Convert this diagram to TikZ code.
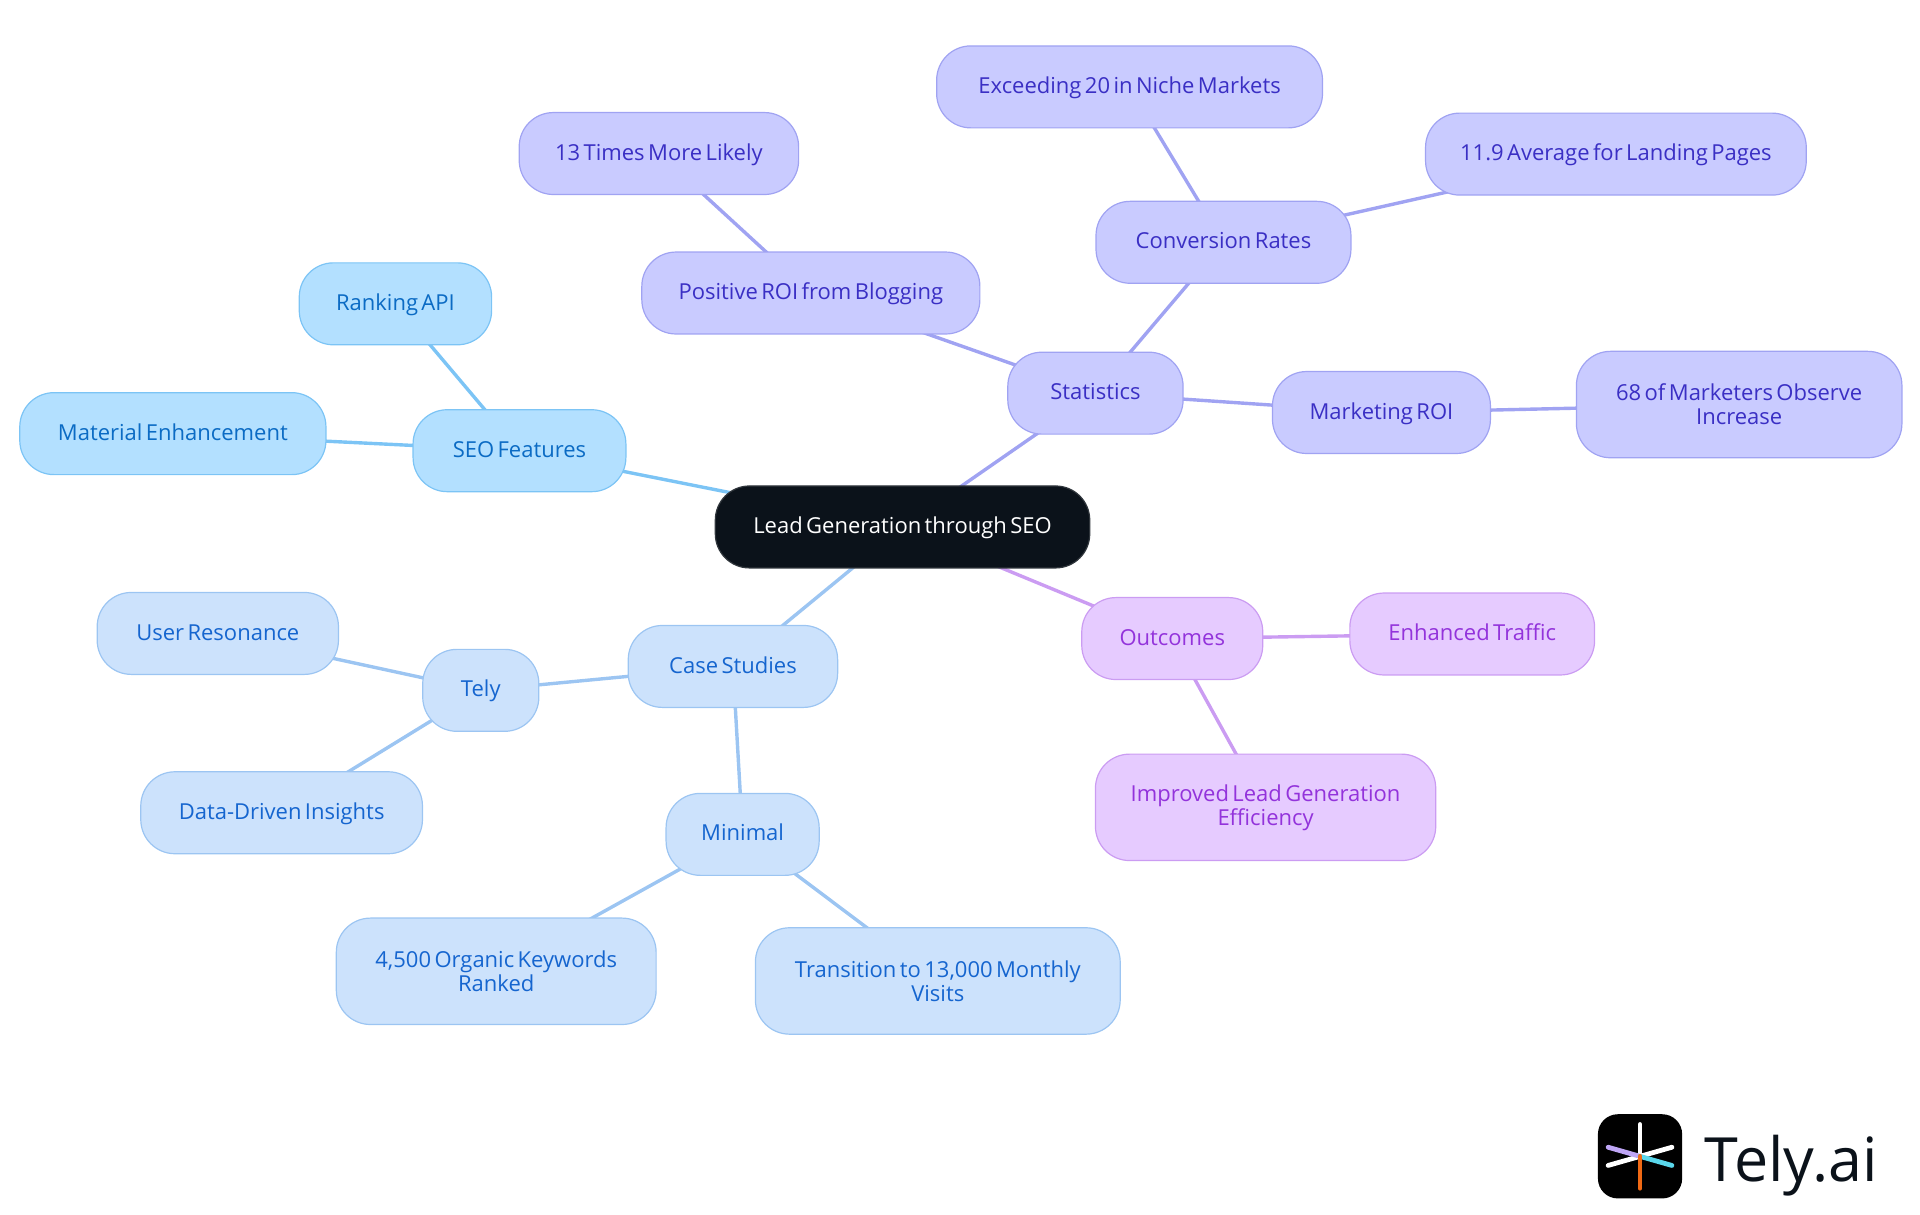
\documentclass[tikz,border=0pt]{standalone}
\usepackage{fontspec}
\setmainfont[WordSpace=0.6]{Open Sans}
\usetikzlibrary{positioning, backgrounds}
\definecolor{rootfill}{HTML}{0B121A}
\definecolor{seofill}{HTML}{B3E0FF}
\definecolor{seoedge}{HTML}{7CC4F5}
\definecolor{seotext}{HTML}{0B6BC4}
\definecolor{casefill}{HTML}{CCE2FC}
\definecolor{caseedge}{HTML}{9CC5F2}
\definecolor{casetext}{HTML}{1565CF}
\definecolor{statfill}{HTML}{C9CBFF}
\definecolor{statedge}{HTML}{A0A3F2}
\definecolor{stattext}{HTML}{3A2FC4}
\definecolor{outfill}{HTML}{E6CBFF}
\definecolor{outedge}{HTML}{CB9CF2}
\definecolor{outtext}{HTML}{9333DB}
\tikzstyle{mapnode} = [rectangle, rounded corners=0.6cm, minimum height=1.44cm, inner sep=0pt, align=center, text centered, line width=0.6pt, font=\fontsize{11}{12}\selectfont, text height=8.8pt, text depth=2.2pt]
\tikzstyle{rootbox} = [mapnode, draw=rootfill!85!white, fill=rootfill, text=white]
\tikzstyle{seobox} = [mapnode, draw=seoedge, fill=seofill, text=seotext]
\tikzstyle{casebox} = [mapnode, draw=caseedge, fill=casefill, text=casetext]
\tikzstyle{statbox} = [mapnode, draw=statedge, fill=statfill, text=stattext]
\tikzstyle{outbox} = [mapnode, draw=outedge, fill=outfill, text=outtext]
\tikzstyle{tall} = [minimum height=1.87cm, text height=, text depth=]
\tikzstyle{seoline} = [line width=1.7pt, draw=seoedge]
\tikzstyle{caseline} = [line width=1.7pt, draw=caseedge]
\tikzstyle{statline} = [line width=1.7pt, draw=statedge]
\tikzstyle{outline} = [line width=1.7pt, draw=outedge]
\tikzstyle{spoke} = [line width=2.4pt, line cap=round]
\begin{document}
\begin{tikzpicture}
	\useasboundingbox (0,0) rectangle (33.74,-21.35);
	\node (root) [rootbox, minimum width=6.58cm] at (15.86,-9.26) {Lead Generation through SEO};
	
	\node (seo) [seobox, minimum width=3.74cm, left=1.55cm of root, yshift=1.34cm] {SEO Features};
	\node (ranking) [seobox, minimum width=3.38cm, above=1.12cm of seo, xshift=-2.18cm] {Ranking API};
	\node (material) [seobox, minimum width=5.38cm, left=1.51cm of seo, yshift=0.30cm] {Material Enhancement};
	
	\node (stats) [statbox, minimum width=3.08cm, above=0.89cm of root, xshift=3.39cm] {Statistics};
	\node (posroi) [statbox, minimum width=5.94cm, left=0.47cm of stats, yshift=1.76cm] {Positive ROI from Blogging};
	\node (likely) [statbox, minimum width=4.91cm, above=0.99cm of posroi, xshift=-2.67cm] {13 Times More Likely};
	\node (conv) [statbox, minimum width=4.48cm, above=1.19cm of stats, xshift=2.25cm] {Conversion Rates};
	\node (niche) [statbox, minimum width=6.78cm, above=1.27cm of conv, xshift=-1.65cm] {Exceeding 20 in Niche Markets};
	\node (landing) [statbox, minimum width=6.69cm, right=1.29cm of conv, yshift=1.55cm] {11.9 Average for Landing Pages};
	\node (mroi) [statbox, minimum width=3.83cm, right=1.55cm of stats, yshift=-0.34cm] {Marketing ROI};
	\node (observe) [statbox, tall, minimum width=5.72cm, right=1.49cm of mroi, yshift=0.14cm] {68 of Marketers Observe \\ Increase};
	
	\node (case) [casebox, minimum width=3.68cm, below=0.99cm of root, xshift=-2.98cm] {Case Studies};
	\node (tely) [casebox, minimum width=2.04cm, left=1.55cm of case, yshift=-0.42cm] {Tely};
	\node (user) [casebox, minimum width=4.24cm, left=1.46cm of tely, yshift=1.00cm] {User Resonance};
	\node (insights) [casebox, minimum width=4.95cm, below=0.69cm of tely, xshift=-3.50cm] {Data-Driven Insights};
	\node (minimal) [casebox, minimum width=2.69cm, below=1.49cm of case, xshift=0.17cm] {Minimal};
	\node (keywords) [casebox, tall, minimum width=5.62cm, below=0.73cm of minimal, xshift=-4.33cm] {4,500 Organic Keywords \\ Ranked};
	\node (visits) [casebox, tall, minimum width=6.41cm, below=0.90cm of minimal, xshift=3.43cm] {Transition to 13,000 Monthly \\ Visits};
	
	\node (outcomes) [outbox, minimum width=3.18cm, below=0.50cm of root, xshift=4.74cm] {Outcomes};
	\node (traffic) [outbox, minimum width=4.30cm, right=1.51cm of outcomes, yshift=0.08cm] {Enhanced Traffic};
	\node (improved) [outbox, tall, minimum width=5.98cm, below=1.29cm of outcomes, xshift=1.64cm] {Improved Lead Generation \\ Efficiency};
	
	\begin{scope}[on background layer]
	\draw [seoline] (root.center) -- (seo.center);
	\draw [seoline] (seo.center) -- (ranking.center);
	\draw [seoline] (seo.center) -- (material.center);
	
	\draw [statline] (root.center) -- (stats.center);
	\draw [statline] (stats.center) -- (posroi.center);
	\draw [statline] (posroi.center) -- (likely.center);
	\draw [statline] (stats.center) -- (conv.center);
	\draw [statline] (conv.center) -- (niche.center);
	\draw [statline] (conv.center) -- (landing.center);
	\draw [statline] (stats.center) -- (mroi.center);
	\draw [statline] (mroi.center) -- (observe.center);
	
	\draw [caseline] (root.center) -- (case.center);
	\draw [caseline] (case.center) -- (tely.center);
	\draw [caseline] (tely.center) -- (user.center);
	\draw [caseline] (tely.center) -- (insights.center);
	\draw [caseline] (case.center) -- (minimal.center);
	\draw [caseline] (minimal.center) -- (keywords.center);
	\draw [caseline] (minimal.center) -- (visits.center);
	
	\draw [outline] (root.center) -- (outcomes.center);
	\draw [outline] (outcomes.center) -- (traffic.center);
	\draw [outline] (outcomes.center) -- (improved.center);
	\end{scope}
	
	\node (logomark) [rectangle, rounded corners=0.35cm, minimum width=1.48cm, minimum height=1.48cm, inner sep=0pt, fill=black] at (28.82,-20.32) {};
	\node (logotext) [right=0.38cm of logomark, yshift=-0.17cm, inner sep=0pt, text=rootfill, font=\fontsize{30.5}{32}\selectfont] {Tely.ai};
	\draw [spoke, white] (logomark.center) -- ++(0,0.56);
	\draw [spoke, white] (logomark.center) -- ++(0.56,0.16);
	\draw [spoke, white] (logomark.center) -- ++(-0.56,-0.16);
	\draw [spoke, color={rgb,255:red,190;green,165;blue,245}] (logomark.center) -- ++(-0.56,0.16);
	\draw [spoke, color={rgb,255:red,90;green,215;blue,235}] (logomark.center) -- ++(0.56,-0.16);
	\draw [spoke, color={rgb,255:red,240;green,105;blue,20}] (logomark.center) -- ++(0,-0.56);
\end{tikzpicture}
\end{document}
